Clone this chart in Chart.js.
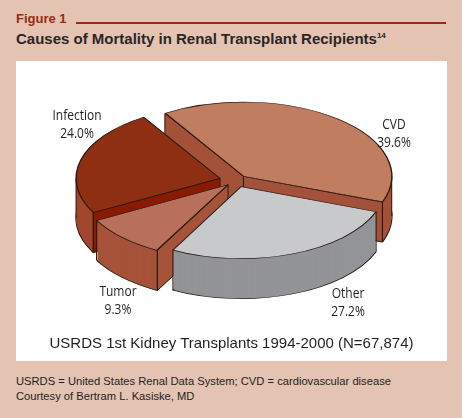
<!DOCTYPE html>
<html>
<head>
<meta charset="utf-8">
<script src="https://cdn.jsdelivr.net/npm/chart.js@4.4.1/dist/chart.umd.min.js"></script>
<style>
  html, body { margin: 0; padding: 0; }
  body { width: 462px; height: 418px; background: #e4c3b2; position: relative; overflow: hidden;
         font-family: "Liberation Sans", Arial, sans-serif; }
  .abs { position: absolute; white-space: nowrap; }
  #fig { left: 16px; top: 11px; font-size: 13px; font-weight: bold; color: #992b12; }
  #rule { left: 76px; top: 22px; width: 370px; height: 2px; background: #992b12; }
  #title { left: 16px; top: 30px; font-size: 15px; font-weight: bold; color: #2b2524; }
  #title sup { font-size: 8px; vertical-align: 6px; }
  #box { left: 16px; top: 61px; width: 431px; height: 300px; background: #fff; }
  #wrap { position: absolute; left: 16px; top: 61px; width: 431px; height: 300px; }
  #sub { left: 16px; width: 431px; top: 334px; text-align: center; font-size: 15px; color: #231f20; }
  .note { left: 16px; font-size: 11.2px; color: #231f20; }
  .lbl { position: absolute; text-align: center; font-family: "Open Sans", sans-serif;
         font-size: 15px; line-height: 18px; color: #231f20; white-space: nowrap;
         transform: translateX(-50%) scaleX(0.8); }
</style>
</head>
<body>
<div class="abs" id="fig">Figure 1</div>
<div class="abs" id="rule"></div>
<div class="abs" id="title">Causes of Mortality in Renal Transplant Recipients<sup>14</sup></div>
<div class="abs" id="box"></div>
<div id="wrap"><canvas id="myChart"></canvas></div>
<div class="abs" id="sub">USRDS 1st Kidney Transplants 1994-2000 (N=67,874)</div>
<div class="abs note" style="top:375px">USRDS = United States Renal Data System; CVD = cardiovascular disease</div>
<div class="abs note" style="top:390px">Courtesy of Bertram L. Kasiske, MD</div>

<script>
// data
const categories = ["CVD", "Other", "Tumor", "Infection"];
const shares = [39.6, 27.2, 9.3, 24.0];

// styles
const topColors = ["#c07d60", "#c8c9cb", "#b8705a", "#8e2e13"];
const sideColors = ["#a4513a", "#939497", "#a6533a", "#a2472c"];
const faceColors = ["#a4513a", "#939497", "#a6533a", "#8a1a02"];
const explode = [44, 52, 48, 68];
const labelPos = [[394, 114], [348, 283], [118, 281], [77, 105]];

const TILT = 0.5;
const DEPTH = 40;
const EDGE = "#2a1b16";

function drawLayer(ctx, arc, cy, k, patch) {
  const orig = arc.options;
  arc.options = Object.assign({}, orig, patch);
  ctx.save();
  ctx.translate(0, cy + k);
  ctx.scale(1, TILT);
  ctx.translate(0, -cy);
  arc.draw(ctx);
  ctx.restore();
  arc.options = orig;
}

// apex and rim radius of an exploded slice, the way ArcElement shifts it
function sliceGeom(arc) {
  let p = arc.getProps(["x", "y", "startAngle", "endAngle", "outerRadius", "circumference"]);
  let off = (arc.options.offset || 0) / 4;
  let fix = 1 - Math.sin(Math.min(Math.PI, p.circumference || 0));
  let mid = (p.startAngle + p.endAngle) / 2;
  return {
    ax: p.x + Math.cos(mid) * off,
    ay: p.y + Math.sin(mid) * off,
    r: p.outerRadius + off * fix,
    start: p.startAngle,
    end: p.endAngle
  };
}

function drawSides(ctx, arc, cy, i) {
  let g = sliceGeom(arc);
  let proj = (x, y, k) => [x, cy + (y - cy) * TILT + k];
  let rim = (a) => [g.ax + Math.cos(a) * g.r, g.ay + Math.sin(a) * g.r];
  ctx.save();
  ctx.strokeStyle = EDGE;
  ctx.lineWidth = 1;
  // radial faces turned toward the viewer
  [[g.start, Math.cos(g.start) < 0], [g.end, Math.cos(g.end) > 0]].forEach(([a, seen]) => {
    if (!seen) return;
    let r = rim(a);
    let p1 = proj(g.ax, g.ay, 0), p2 = proj(r[0], r[1], 0);
    let p3 = proj(r[0], r[1], DEPTH), p4 = proj(g.ax, g.ay, DEPTH);
    ctx.beginPath();
    ctx.moveTo(p1[0], p1[1]);
    ctx.lineTo(p2[0], p2[1]);
    ctx.lineTo(p3[0], p3[1]);
    ctx.lineTo(p4[0], p4[1]);
    ctx.closePath();
    ctx.fillStyle = faceColors[i];
    ctx.fill();
    ctx.stroke();
  });
  // vertical edges of the outer wall
  let angles = [g.start, g.end];
  [0, Math.PI, 2 * Math.PI, -Math.PI].forEach((a) => {
    if (a > g.start && a < g.end) angles.push(a);
  });
  angles.forEach((a) => {
    if (Math.sin(a) < -0.05 && Math.abs(Math.cos(a)) < 0.999) return;
    let r = rim(a);
    let p1 = proj(r[0], r[1], 0), p2 = proj(r[0], r[1], DEPTH);
    ctx.beginPath();
    ctx.moveTo(p1[0], p1[1]);
    ctx.lineTo(p2[0], p2[1]);
    ctx.stroke();
  });
  ctx.restore();
}

const pie3d = {
  id: "pie3d",
  beforeDatasetsDraw(chart) {
    let ctx = chart.ctx;
    let arcs = chart.getDatasetMeta(0).data;
    let cy = arcs[0].y;
    // back slices first
    let order = arcs.map((a, i) => i).sort((a, b) => {
      let ma = (arcs[a].startAngle + arcs[a].endAngle) / 2;
      let mb = (arcs[b].startAngle + arcs[b].endAngle) / 2;
      return Math.sin(ma) - Math.sin(mb);
    });
    order.forEach((i) => {
      let arc = arcs[i];
      drawLayer(ctx, arc, cy, DEPTH, { backgroundColor: sideColors[i] });
      for (let k = DEPTH - 1; k > 0; k--) {
        drawLayer(ctx, arc, cy, k, { backgroundColor: sideColors[i], borderWidth: 0 });
      }
      drawSides(ctx, arc, cy, i);
      drawLayer(ctx, arc, cy, 0, {});
    });
    return false;
  }
};

new Chart(document.getElementById("myChart"), {
  type: "pie",
  data: {
    labels: categories,
    datasets: [{
      data: shares,
      backgroundColor: topColors,
      borderColor: EDGE,
      borderWidth: 1.4,
      offset: explode,
      radius: 144,
      clip: false
    }]
  },
  options: {
    responsive: true,
    maintainAspectRatio: false,
    animation: false,
    events: [],
    rotation: -32,
    layout: { padding: { left: 10, right: 0, top: 0, bottom: 61 } },
    plugins: { legend: { display: false }, tooltip: { enabled: false } }
  },
  plugins: [pie3d]
});

// slice labels
categories.forEach((c, i) => {
  let d = document.createElement("div");
  d.className = "lbl";
  d.style.left = labelPos[i][0] + "px";
  d.style.top = labelPos[i][1] + "px";
  d.innerHTML = c + "<br>" + shares[i].toFixed(1) + "%";
  document.body.appendChild(d);
});
</script>
</body>
</html>
